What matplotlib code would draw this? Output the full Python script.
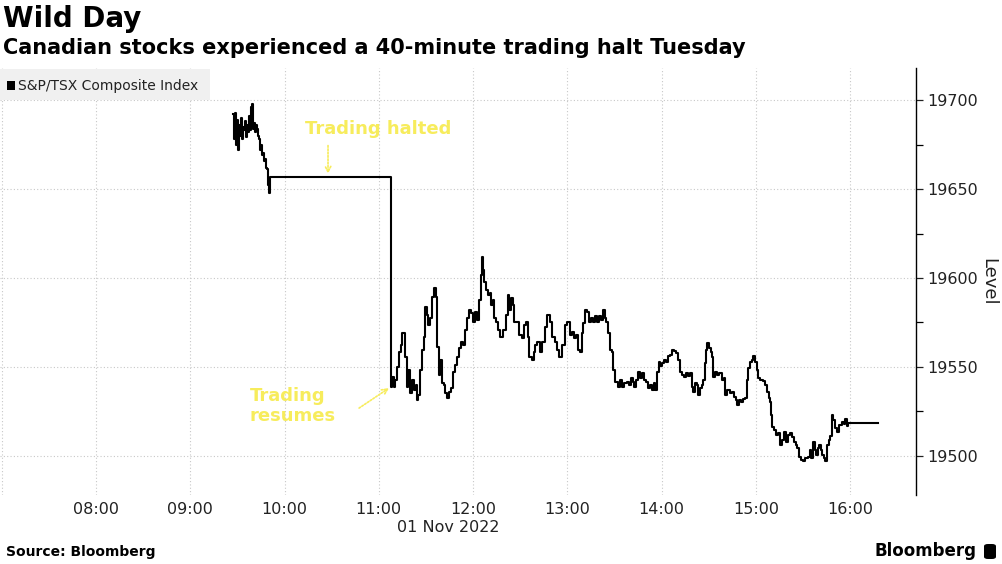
import numpy as np
import pandas as pd
import matplotlib
matplotlib.use("Agg")
import matplotlib.pyplot as plt
import matplotlib.dates as mdates
from matplotlib.patches import FancyBboxPatch, Rectangle

# S&P/TSX Composite, 01 Nov 2022 -- minutes after midnight, index level
minutes = [
    567.2, 567.9, 568.5, 569.1, 569.8, 570.4, 571.0, 571.7, 572.3, 573.0,
    573.6, 574.2, 574.9, 575.5, 576.1, 576.8, 577.4, 578.0, 578.7, 579.3,
    579.9, 580.6, 581.2, 581.9, 582.5, 583.1, 583.8, 584.4, 585.0, 585.7,
    586.3, 586.9, 587.6, 588.2, 588.9, 589.5, 590.1, 590.8,
    # trading resumes
    667.8, 668.5, 669.7, 670.4, 671.6, 672.9, 674.2, 674.8, 676.7, 678.0,
    678.6, 679.9, 681.2, 682.4, 683.7, 684.4, 685.0, 686.3, 687.6, 688.8,
    689.5, 690.7, 691.4, 692.6, 693.9, 695.2, 696.5, 697.1, 698.4, 699.0,
    700.3, 701.6, 702.2, 703.5, 704.7, 706.0, 707.3, 708.6, 709.8, 711.1,
    712.4, 713.6, 714.9, 716.2, 717.5, 718.7, 720.0, 721.3, 722.6, 723.8,
    725.1, 725.7, 726.4, 727.0, 728.3, 729.6, 730.8, 731.5, 732.7, 733.4,
    734.7, 735.9, 737.2,
    739.1, 741.0, 742.3, 742.9, 744.2, 745.5, 746.1, 748.0, 749.3, 751.2,
    752.5, 753.8, 755.0, 755.7, 757.6, 758.9, 759.5, 760.8, 762.7, 763.9,
    765.9, 767.1, 769.0, 770.3, 772.2, 773.5, 774.8, 776.7, 778.6, 779.9,
    781.8, 783.0, 784.3, 785.6, 786.9, 788.1, 789.4, 790.0, 791.3, 792.6,
    793.9, 795.1, 796.4, 797.7, 799.0, 800.2, 801.5, 802.8, 804.0, 804.7,
    806.0, 807.2, 808.5, 809.1, 810.4,
    812.3, 813.6, 814.9, 816.1, 818.1, 819.3, 820.6, 821.9, 822.5, 823.8,
    825.1, 826.3, 827.6, 828.9, 830.1, 831.4, 832.7, 834.0, 835.2, 835.9,
    837.2, 838.4, 839.1, 840.3, 841.6, 842.9, 844.2, 845.4, 846.7, 848.0,
    849.2, 850.5, 851.8, 853.1, 854.3, 855.6, 856.9, 858.2, 859.4, 860.1,
    861.3, 862.6, 863.3, 864.5, 865.8, 866.4, 867.7, 868.3, 869.0, 870.3,
    871.5, 872.2, 872.8, 874.1, 875.4, 876.6, 878.5, 879.8, 880.4, 881.7,
    883.6, 884.9, 886.2, 887.4, 888.1, 889.3, 890.6, 891.9, 893.2, 894.4,
    895.1, 896.3, 897.6, 898.3, 899.5, 900.8,
    901.4, 902.7, 904.6, 905.9, 907.2, 908.4, 909.1, 909.7, 910.3, 911.6,
    912.9, 914.2, 915.5, 916.7, 918.0, 919.3, 920.5, 921.8, 923.1, 924.4,
    925.6, 926.3, 927.5, 928.8, 930.1, 931.4, 933.3, 934.5, 935.2, 936.5,
    937.7, 938.4, 939.6, 940.3, 941.5, 942.2, 943.5, 944.1, 945.4, 946.6,
    947.3, 948.6, 949.2, 950.5, 951.7, 953.0, 954.9, 956.2, 956.8, 958.1,
    958.8, 977.8,
]
level = [
    19692, 19678, 19693, 19675, 19689, 19672, 19686, 19680, 19690, 19678,
    19685, 19683, 19688, 19679, 19686, 19682, 19691, 19683, 19696, 19698,
    19684, 19687, 19682, 19686, 19684, 19680, 19678, 19672, 19675, 19669,
    19670, 19666, 19667, 19662, 19661, 19652, 19648, 19657,
    19538.8, 19544.4, 19538.8, 19542.7, 19550.0, 19558.4, 19562.4, 19569.1, 19555.6, 19538.8,
    19548.3, 19535.4, 19542.7, 19537.1, 19539.9, 19531.5, 19534.3, 19548.3, 19559.6, 19566.9,
    19583.7, 19579.2, 19573.6, 19577.6, 19589.3, 19594.4, 19589.3, 19561.3, 19545.5, 19554.0,
    19541.0, 19539.9, 19535.4, 19532.6, 19536.0, 19538.2, 19547.2, 19551.2, 19555.6, 19560.7,
    19564.1, 19562.4, 19570.8, 19577.6, 19582.0, 19580.4, 19575.3, 19580.9, 19576.4, 19587.7,
    19601.7, 19611.8, 19604.5, 19597.8, 19593.3, 19590.5, 19591.6, 19584.9, 19587.7, 19577.6,
    19575.3, 19570.8, 19566.8,
    19570.8, 19579.2, 19590.5, 19582.0, 19588.8, 19584.9, 19575.3, 19575.3, 19568.0, 19566.3,
    19573.6, 19575.3, 19566.8, 19555.6, 19554.0, 19558.4, 19562.4, 19564.1, 19558.4, 19564.1,
    19572.5, 19579.2, 19575.3, 19566.8, 19564.1, 19559.6, 19555.6, 19562.4, 19573.6, 19575.3,
    19568.0, 19569.7, 19566.3, 19568.0, 19559.6, 19558.4, 19569.1, 19574.7, 19582.0, 19580.9,
    19575.3, 19577.6, 19575.3, 19578.7, 19575.3, 19578.7, 19576.4, 19582.0, 19577.6, 19575.3,
    19569.1, 19559.6, 19558.4, 19548.3, 19541.6,
    19538.8, 19542.7, 19538.8, 19541.0, 19541.6, 19539.9, 19543.8, 19541.6, 19538.8, 19542.7,
    19547.4, 19543.8, 19546.6, 19542.7, 19541.6, 19538.2, 19539.9, 19537.1, 19541.0, 19537.1,
    19547.2, 19552.8, 19550.6, 19552.3, 19554.0, 19552.8, 19556.2, 19556.8, 19559.6, 19559.0,
    19557.9, 19554.0, 19547.2, 19545.5, 19544.4, 19546.6, 19544.9, 19546.6, 19538.8, 19536.0,
    19541.0, 19539.9, 19534.3, 19538.2, 19539.9, 19542.7, 19552.3, 19559.6, 19563.5, 19560.7,
    19558.4, 19555.6, 19544.4, 19547.2, 19545.5, 19546.6, 19542.7, 19543.8, 19534.3, 19537.1,
    19535.4, 19536.0, 19533.2, 19531.5, 19528.7, 19531.5, 19530.4, 19532.0, 19532.6, 19542.7,
    19549.5, 19552.8, 19554.0, 19556.2, 19552.8, 19548.3,
    19543.8, 19542.7, 19542.2, 19539.9, 19536.0, 19532.6, 19530.4, 19523.0, 19516.3, 19514.6,
    19511.8, 19512.9, 19506.2, 19509.0, 19513.5, 19507.9, 19511.8, 19512.9, 19510.7, 19507.9,
    19506.2, 19504.5, 19499.5, 19497.8, 19497.2, 19498.9, 19499.5, 19503.4, 19498.9, 19507.9,
    19503.4, 19500.6, 19504.5, 19506.2, 19503.4, 19500.6, 19498.9, 19497.2, 19506.2, 19509.0,
    19511.3, 19523.0, 19520.2, 19515.7, 19513.5, 19517.4, 19519.1, 19518.0, 19520.8, 19517.0,
    19518.7, 19518.7,
]

hour_labels = ["08:00", "09:00", "10:00", "11:00", "12:00", "13:00", "14:00", "15:00", "16:00"]
y_ticks = [19500, 19550, 19600, 19650, 19700]

day = pd.Timestamp("2022-11-01")
t = day + pd.to_timedelta(minutes, unit="min")

fig = plt.figure(figsize=(10.03, 5.64), dpi=100)
ax = fig.add_axes([0.0, 0.1223, 0.9133, 0.757])

ax.plot(t, level, color="black", lw=1.5, drawstyle="steps-post", zorder=3)

ax.set_xlim(day + pd.Timedelta(minutes=418.9), day + pd.Timedelta(minutes=1002))
ax.set_ylim(19478, 19718)

hour_pos = [day + pd.Timedelta(hours=h) for h in range(8, 17)]
ax.set_xticks(hour_pos)
ax.set_xticklabels(hour_labels)
ax.axvline(day + pd.Timedelta(hours=7), color="#c8c8c8", lw=0.8, ls=(0, (1, 2)), zorder=1)

ax.yaxis.tick_right()
ax.yaxis.set_label_position("right")
ax.set_yticks(y_ticks)
ax.set_yticks([19525, 19575, 19625, 19675], minor=True)
ax.set_yticklabels([str(v) for v in y_ticks])

for s in ["top", "left", "bottom"]:
    ax.spines[s].set_visible(False)
ax.spines["right"].set_linewidth(1.0)

ax.tick_params(axis="x", length=0, labelsize=11.5, pad=5, colors="#222222")
ax.tick_params(axis="y", which="major", length=5, width=0.9, labelsize=11.5, pad=3, colors="#222222")
ax.tick_params(axis="y", which="minor", length=5, width=0.9)
ax.grid(True, which="major", color="#c8c8c8", lw=0.8, ls=(0, (1, 2)), zorder=1)
ax.set_ylabel("Level", rotation=-90, fontsize=13, labelpad=14, color="#222222")

# annotations
yellow = "#f7ec5c"
ax.text(day + pd.Timedelta(minutes=659.5), 19684, "Trading halted", color=yellow,
        fontsize=13, fontweight="bold", ha="center", va="center")
ax.annotate("", xy=(day + pd.Timedelta(minutes=627.7), 19657), xytext=(day + pd.Timedelta(minutes=627.7), 19676),
            arrowprops=dict(arrowstyle="->", color=yellow, lw=1.2, ls=(0, (1, 1))))
ax.text(day + pd.Timedelta(minutes=578), 19528, "Trading\nresumes", color=yellow,
        fontsize=13, fontweight="bold", ha="left", va="center", linespacing=1.2)
ax.annotate("", xy=(day + pd.Timedelta(minutes=668), 19539), xytext=(day + pd.Timedelta(minutes=646), 19526),
            arrowprops=dict(arrowstyle="->", color=yellow, lw=1.2, ls=(0, (1, 1))))

# legend box
fig.patches.append(Rectangle((0, 1 - 100 / 564), 210 / 1003, 31 / 564, transform=fig.transFigure,
                             facecolor="#f0f0f0", edgecolor="none", zorder=0))
fig.patches.append(Rectangle((7 / 1003, 1 - 90 / 564), 8 / 1003, 9 / 564, transform=fig.transFigure,
                             facecolor="black", edgecolor="none"))
fig.text(18 / 1003, 1 - 86 / 564, "S&P/TSX Composite Index", fontsize=10, va="center", color="#222222")

# titles
fig.text(3 / 1003, 1 - 19 / 564, "Wild Day", fontsize=20, fontweight="bold", va="center")
fig.text(3 / 1003, 1 - 48 / 564, "Canadian stocks experienced a 40-minute trading halt Tuesday",
         fontsize=15, fontweight="bold", va="center")

fig.text(448 / 1003, 1 - 528 / 564, "01 Nov 2022", fontsize=11.5, ha="center", va="center", color="#222222")
fig.text(6 / 1003, 1 - 552 / 564, "Source: Bloomberg", fontsize=10, fontweight="bold", va="center")
fig.text(977 / 1003, 1 - 551 / 564, "Bloomberg", fontsize=12, fontweight="bold", ha="right", va="center")
fig.patches.append(FancyBboxPatch((984 / 1003, 1 - 559 / 564), 12 / 1003, 15 / 564, transform=fig.transFigure,
                                  boxstyle="round,pad=0,rounding_size=0.004", facecolor="black", edgecolor="none"))

fig.savefig("out.png", dpi=100)
